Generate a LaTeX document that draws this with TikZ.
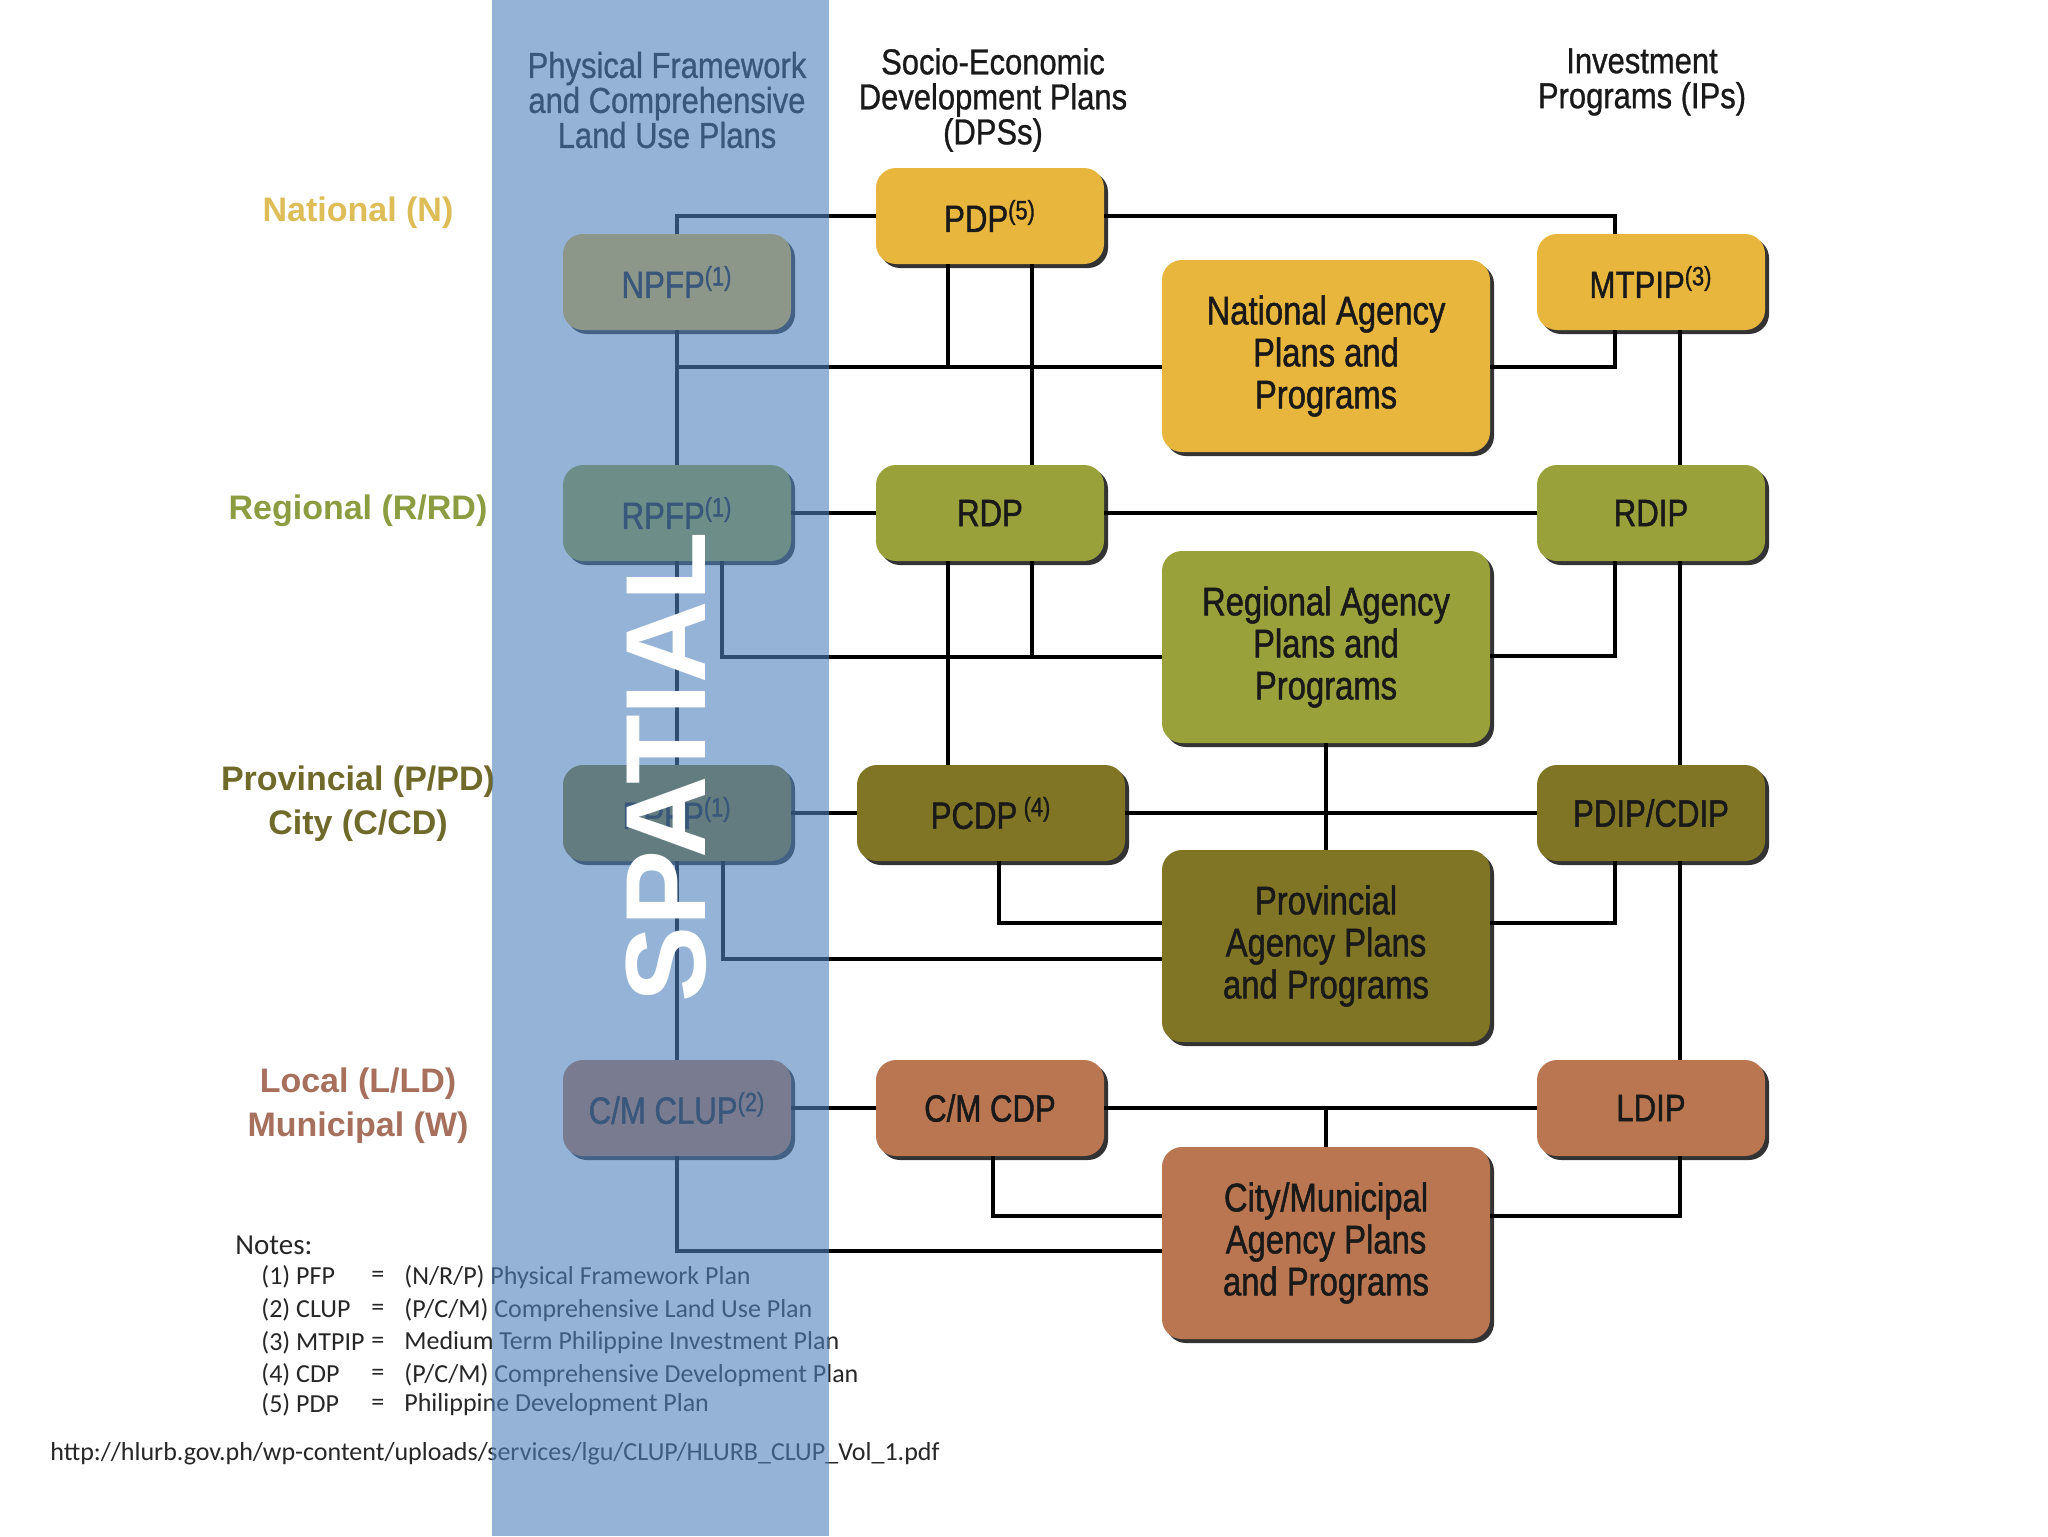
\documentclass[tikz,border=0pt]{standalone}
\usepackage{fontspec}
\setmainfont{Liberation Sans}
\newfontfamily\condfont[FakeStretch=0.82,FakeBold=1.2]{Liberation Sans}
\newfontfamily\headfont[FakeStretch=0.86,FakeBold=0.8]{Liberation Sans}
\newfontfamily\notefont{Carlito}
\usetikzlibrary{shadows,calc}

\definecolor{natgold}{RGB}{232,182,60}
\definecolor{reggreen}{RGB}{152,161,58}
\definecolor{provolive}{RGB}{128,117,36}
\definecolor{locbrown}{RGB}{186,118,80}
\definecolor{natlabel}{RGB}{222,188,86}
\definecolor{reglabel}{RGB}{140,156,64}
\definecolor{provlabel}{RGB}{112,106,42}
\definecolor{loclabel}{RGB}{166,112,92}
\definecolor{bandblue}{RGB}{79,129,189}

\newcommand{\ftn}[1]{\textsuperscript{(#1)}}

\tikzset{
  plan/.style={rounded corners=10pt, minimum width=114pt, minimum height=48pt, inner sep=2pt,
    align=center, text=black!90, font=\condfont\fontsize{19}{21}\selectfont,
    drop shadow={shadow xshift=2pt, shadow yshift=-2pt, fill=black!80, opacity=1}},
  agency/.style={plan, minimum width=164pt, minimum height=96pt,
    font=\condfont\fontsize{20}{21}\selectfont},
  level/.style={font=\bfseries\fontsize{17}{22}\selectfont, align=center},
  head/.style={font=\headfont\fontsize{18}{17.5}\selectfont, align=center, text=black!90},
  link/.style={line width=2pt, black},
  note/.style={font=\notefont\fontsize{13}{15}\selectfont, anchor=west, inner sep=0pt, text=black!85},
}

\begin{document}
\begin{tikzpicture}[x=0.5pt,y=-0.5pt]
 \useasboundingbox (0,0) rectangle (2048,1536);
 \fill[white] (0,0) rectangle (2048,1536);

	% En-tetes de colonnes
 \node[head] (hpf) at (667,100) {Physical Framework\\and Comprehensive\\Land Use Plans};
 \node[head] (hse) at (993,100) {Socio-Economic\\Development Plans\\(DPSs)};
 \node[head] (hip) at (1642,82) {Investment\\Programs (IPs)};

	% Niveaux
 \node[level, text=natlabel] (lvn) at (358,213) {National (N)};
 \node[level, text=reglabel] (lvr) at (358,511) {Regional (R/RD)};
 \node[level, text=provlabel] (lvp) at (358,804) {Provincial (P/PD)\\City (C/CD)};
 \node[level, text=loclabel] (lvl) at (358,1106) {Local (L/LD)\\Municipal (W)};

	% Plans
 \node[plan, fill=natgold] (pdp) at (990,216) {PDP\ftn{5}};
 \node[plan, fill=natgold] (npfp) at (677,282) {NPFP\ftn{1}};
 \node[plan, fill=natgold] (mtpip) at (1651,282) {MTPIP\ftn{3}};
 \node[agency, fill=natgold] (natag) at (1326,356) {National Agency\\Plans and\\Programs};

 \node[plan, fill=reggreen] (rpfp) at (677,513) {RPFP\ftn{1}};
 \node[plan, fill=reggreen] (rdp) at (990,513) {RDP};
 \node[plan, fill=reggreen] (rdip) at (1651,513) {RDIP};
 \node[agency, fill=reggreen] (regag) at (1326,647) {Regional Agency\\Plans and\\Programs};

 \node[plan, fill=provolive] (ppfp) at (677,813) {PPFP\ftn{1}};
 \node[plan, fill=provolive, minimum width=134pt] (pcdp) at (991,813) {PCDP\,\ftn{4}};
 \node[plan, fill=provolive] (pdip) at (1651,813) {PDIP/CDIP};
 \node[agency, fill=provolive] (provag) at (1326,946) {Provincial\\Agency Plans\\and Programs};

 \node[plan, fill=locbrown] (clup) at (677,1108) {C/M CLUP\ftn{2}};
 \node[plan, fill=locbrown] (cdp) at (990,1108) {C/M CDP};
 \node[plan, fill=locbrown] (ldip) at (1651,1108) {LDIP};
 \node[agency, fill=locbrown] (cityag) at (1326,1243) {City/Municipal\\Agency Plans\\and Programs};

	% Liaisons nationales
 \draw[link] (npfp.north) |- (pdp.west);
 \draw[link] (pdp.east) -| ($(mtpip.north)+(-36,0)$);
 \draw[link] (npfp.south) -- (rpfp.north);
 \draw[link] (npfp.south) |- ($(natag.west)+(0,11)$);
 \draw[link] ($(pdp.south)+(-42,0)$) |- ($(natag.west)+(0,11)$);
 \draw[link] ($(pdp.south)+(42,0)$) -- ($(rdp.north)+(42,0)$);
 \draw[link] ($(natag.east)+(0,11)$) -| ($(mtpip.south)+(-36,0)$);
 \draw[link] ($(mtpip.south)+(29,0)$) -- ($(rdip.north)+(29,0)$);

	% Liaisons regionales
 \draw[link] (rpfp.east) -- (rdp.west);
 \draw[link] (rdp.east) -- (rdip.west);
 \draw[link] (rpfp.south) -- (ppfp.north);
 \draw[link] ($(rpfp.south)+(45,0)$) |- ($(regag.west)+(0,10)$);
 \draw[link] ($(rdp.south)+(42,0)$) |- ($(regag.west)+(0,10)$);
 \draw[link] ($(rdp.south)+(-42,0)$) -- ($(pcdp.north)+(-43,0)$);
 \draw[link] ($(rdip.south)+(-36,0)$) |- ($(regag.east)+(0,9)$);
 \draw[link] ($(rdip.south)+(29,0)$) -- ($(pdip.north)+(29,0)$);
 \draw[link] (regag.south) -- (provag.north);

	% Liaisons provinciales
 \draw[link] (ppfp.east) -- (pcdp.west);
 \draw[link] (pcdp.east) -- (pdip.west);
 \draw[link] (ppfp.south) -- (clup.north);
 \draw[link] ($(ppfp.south)+(46,0)$) |- ($(provag.west)+(0,13)$);
 \draw[link] ($(pcdp.south)+(8,0)$) |- ($(provag.west)+(0,-23)$);
 \draw[link] ($(pdip.south)+(-36,0)$) |- ($(provag.east)+(0,-23)$);
 \draw[link] ($(pdip.south)+(29,0)$) -- ($(ldip.north)+(29,0)$);

	% Liaisons locales
 \draw[link] (clup.east) -- (cdp.west);
 \draw[link] (cdp.east) -- (ldip.west);
 \draw[link] (clup.south) |- ($(cityag.west)+(0,8)$);
 \draw[link] ($(cdp.south)+(3,0)$) |- ($(cityag.west)+(0,-27)$);
 \draw[link] ($(ldip.south)+(29,0)$) |- ($(cityag.east)+(0,-27)$);
 \draw[link] (cityag.north) -- (cityag.north |- cdp.east);

	% Notes
 \node[note, font=\notefont\fontsize{14.5}{16}\selectfont] (notes) at (235,1245) {Notes:};
 \foreach \yy/\ab/\df in {1277/(1) PFP/{(N/R/P) Physical Framework Plan},
     1310/(2) CLUP/{(P/C/M) Comprehensive Land Use Plan},
     1343/(3) MTPIP/{Medium Term Philippine Investment Plan},
     1375/(4) CDP/{(P/C/M) Comprehensive Development Plan},
     1405/(5) PDP/{Philippine Development Plan}}{
   \node[note] at (261,\yy) {\ab};
   \node[note] at (371,\yy) {=};
   \node[note] at (404,\yy) {\df};
 }
 \node[note, font=\notefont\fontsize{13}{15}\selectfont] (src) at (50,1454) {http://hlurb.gov.ph/wp-content/uploads/services/lgu/CLUP/HLURB\_CLUP\_Vol\_1.pdf};

	% Bande spatiale
 \fill[bandblue, opacity=0.6] (492,0) rectangle (829,1536);
 \node[rotate=90, text=white, font=\bfseries\fontsize{57}{57}\selectfont] (spatial) at (666,767) {SPATIAL};
\end{tikzpicture}
\end{document}
